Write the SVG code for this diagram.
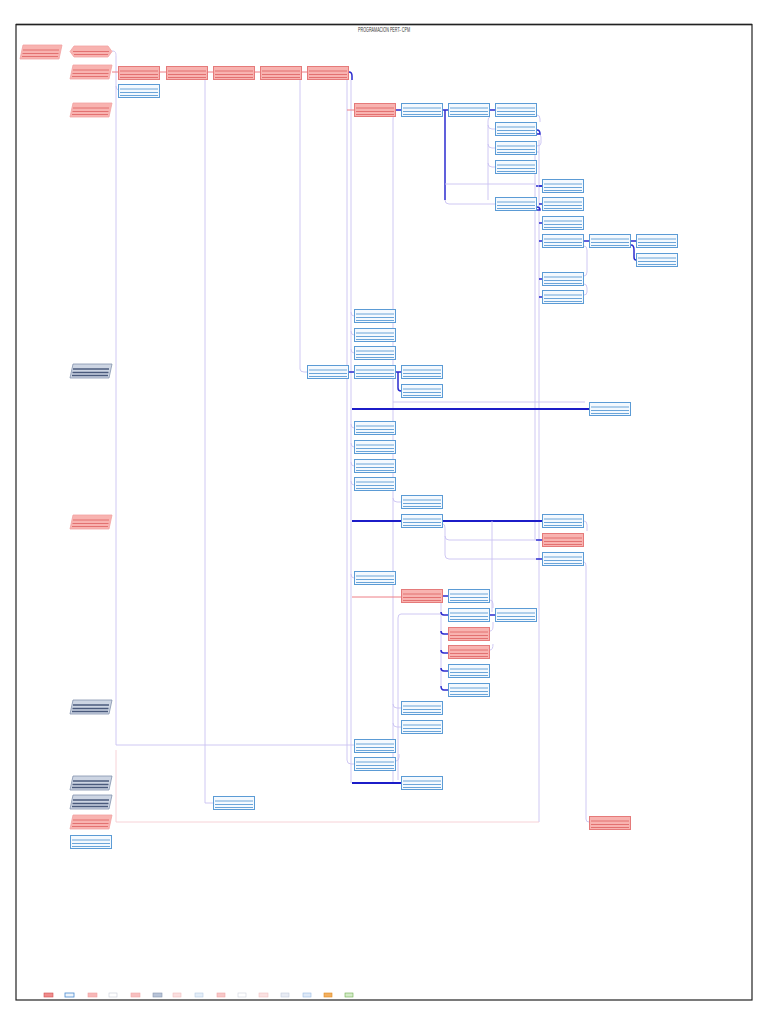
<svg xmlns="http://www.w3.org/2000/svg" width="768" height="1024" viewBox="0 0 768 1024">
<style>
.c{fill:none;stroke:#c9c2f2;stroke-width:0.9}
.d{fill:none;stroke:#2b2bcf;stroke-width:1.5}
.t{fill:none;stroke:#1c1cc8;stroke-width:2.2}
.r{fill:none;stroke:#ee7f86;stroke-width:1}
.p{fill:none;stroke:#f6cdd3;stroke-width:0.9}
.bl{stroke:#5b9bd5;stroke-width:0.9}
.rl{stroke:#e06a6a;stroke-width:0.9}
.kl{stroke:#4a5a7c;stroke-width:1.3}
</style>
<defs>
<g id="bn">
<rect x="0.5" y="0.5" width="41" height="13" fill="#f4f9fe" stroke="#5b9bd5"/>
<line class="bl" x1="2" y1="5" x2="40" y2="5"/><line class="bl" x1="2" y1="8.5" x2="40" y2="8.5"/><line class="bl" x1="2" y1="11.5" x2="40" y2="11.5"/>
</g>
<g id="rn">
<rect x="0.5" y="0.5" width="41" height="13" fill="#f8b3b0" stroke="#e57a7a"/>
<line class="rl" x1="2" y1="5" x2="40" y2="5"/><line class="rl" x1="2" y1="8.5" x2="40" y2="8.5"/><line class="rl" x1="2" y1="11.5" x2="40" y2="11.5"/>
</g>
<g id="rp">
<polygon points="3,0 42,0 39,14 0,14" fill="#f8b3b0" stroke="#f3a2a2" stroke-width="0.8"/>
<line class="rl" x1="3" y1="5" x2="39" y2="5"/><line class="rl" x1="2.5" y1="8.5" x2="38.5" y2="8.5"/><line class="rl" x1="2" y1="11.5" x2="38" y2="11.5"/>
</g>
<g id="kp">
<polygon points="3,0 42,0 39,14 0,14" fill="#cdd5e3" stroke="#8392ad" stroke-width="0.8"/>
<line class="kl" x1="3" y1="5" x2="39" y2="5"/><line class="kl" x1="2.5" y1="8.5" x2="38.5" y2="8.5"/><line class="kl" x1="2" y1="11.5" x2="38" y2="11.5"/>
</g>
</defs>
<rect width="768" height="1024" fill="#ffffff"/>
<rect x="16" y="24.5" width="736" height="975.5" fill="none" stroke="#222" stroke-width="1.2"/>
<line x1="16" y1="24.5" x2="752" y2="24.5" stroke="#222" stroke-width="1.6"/>
<text x="384" y="32" font-family="'Liberation Sans', Arial, sans-serif" font-size="7" text-anchor="middle" textLength="52" lengthAdjust="spacingAndGlyphs" fill="#333">PROGRAMACION PERT- CPM</text>

<g id="connectors">
<path class="c" d="M112,51 C116,51 116,53 116,57 L116,745 L354,745"/>
<path class="c" d="M116,86 Q116,90 119,90"/>
<path class="r" d="M112,72 L118,72 M160,72 L166,72 M208,72 L213,72 M255,72 L260,72 M302,72 L307,72"/>
<path class="c" d="M205,79 L205,803 L213,803"/>
<path class="c" d="M300,79 L300,369 Q300,372 304,372 L307,372"/>
<path class="d" d="M349,72 Q352,72 352,76 L352,80"/>
<path class="c" d="M347,80 L347,760 Q347,764 351,764 L354,764"/>
<path class="c" d="M351,80 L351,783"/>
<path class="r" d="M347,110 L354,110"/>
<path class="c" d="M351,312 Q351,316 354,316 M351,331 Q351,335 354,335 M351,349 Q351,353 354,353 M351,424 Q351,428 354,428 M351,443 Q351,447 354,447 M351,462 Q351,466 354,466 M351,481 Q351,485 354,485 M351,574 Q351,578 354,578"/>
<path class="d" d="M349,372 L354,372"/>
<path class="c" d="M396,113 Q393,113 393,120 L393,783"/>
<path class="d" d="M396,110 L401,110 M443,110 L448,110 M490,110 L495,110"/>
<path class="c" d="M393,498 Q393,502 397,502 L401,502 M393,704 Q393,708 397,708 L401,708 M393,723 Q393,727 397,727 L401,727"/>
<path class="d" d="M396,372 L401,372 M398,372 L398,388 Q398,391 401,391"/>
<path class="d" d="M445,110 L445,200"/>
<path class="c" d="M445,200 Q445,204 449,204 L495,204 M445,184 L536,184"/>
<path class="d" d="M536,186 L542,186"/>
<path class="c" d="M490,117 Q488,117 488,121 L488,200 M488,125 Q488,129 492,129 L495,129 M488,144 Q488,148 492,148 L495,148 M488,163 Q488,167 492,167 L495,167"/>
<path class="c" d="M537,133 Q541,133 541,137 L541,143 Q541,146 537,146 M537,152 L539,152"/>
<path class="c" d="M539,140 L539,822"/>
<path class="c" d="M535,150 L535,540"/>
<path class="d" d="M537,130 Q540,130 540,134 L537,134"/>
<path class="d" d="M537,207 Q540,207 540,210 L537,210"/>
<path class="d" d="M539,186 L542,186 M539,204 L542,204 M539,223 L542,223 M539,241 L542,241 M539,279 L542,279 M539,297 L542,297"/>
<path class="d" d="M584,241 L589,241 M631,241 L636,241 M631,245 Q634,245 634,250 L634,257 Q634,260 636,260"/>
<path class="c" d="M584,246 Q587,246 587,250 L587,272 Q587,276 584,276 M584,284 Q587,284 587,288 L587,292 Q587,295 584,295"/>
<path class="c" d="M537,115 Q540,115 540,119 L540,122"/>
<path class="t" d="M352,409 L589,409"/>
<path class="c" d="M393,402 L585,402"/>
<path class="t" d="M352,521 L401,521 M443,521 L542,521"/>
<path class="c" d="M443,524 Q445,524 445,528 L445,555 Q445,559 449,559 L536,559 M445,536 Q445,540 449,540 L536,540"/>
<path class="d" d="M536,540 L542,540 M536,559 L542,559"/>
<path class="c" d="M584,521 Q587,521 587,525 L587,531"/>
<path class="c" d="M492,521 L492,612"/>
<path class="r" d="M352,597 L401,597"/>
<path class="d" d="M443,596 L448,596"/>
<path class="c" d="M441,603 L441,686"/>
<path class="d" d="M441,612 Q441,615 444,615 L448,615 M441,631 Q441,634 444,634 L448,634 M441,650 Q441,653 444,653 L448,653 M441,668 Q441,671 444,671 L448,671 M441,686 Q441,690 444,690 L448,690"/>
<path class="d" d="M490,615 L495,615"/>
<path class="c" d="M490,600 Q493,600 493,604 L493,608 M490,631 Q493,631 493,626 L493,622 M490,650 Q493,650 493,644"/>
<path class="c" d="M440,614 L401,614 Q398,614 398,618 L398,780"/>
<path class="t" d="M352,783 L401,783"/>
<path class="c" d="M396,761 Q399,761 399,757 L399,754"/>
<path class="p" d="M116,750 L116,822 L539,822"/>
<path class="c" d="M584,562 Q586,562 586,566 L586,819 Q586,822 589,822"/>
</g>

<g id="n_p0"><use href="#rp" x="20" y="45"/></g>
<g id="n_hx"><polygon points="70,51.5 74,46 108,46 112,51.5 108,57 74,57" fill="#f8b3b0" stroke="#f3a2a2" stroke-width="0.8"/><line class="rl" x1="73" y1="51.5" x2="109" y2="51.5"/><line class="rl" x1="74" y1="54.5" x2="108" y2="54.5"/></g>
<g id="n_p1"><use href="#rp" x="70" y="65"/></g>
<g id="n_p2"><use href="#rp" x="70" y="103"/></g>
<g id="n_r1"><use href="#rn" x="118" y="66"/></g>
<g id="n_r2"><use href="#rn" x="166" y="66"/></g>
<g id="n_r3"><use href="#rn" x="213" y="66"/></g>
<g id="n_r4"><use href="#rn" x="260" y="66"/></g>
<g id="n_r5"><use href="#rn" x="307" y="66"/></g>
<g id="n_b1"><use href="#bn" x="118" y="84"/></g>
<g id="n_r6"><use href="#rn" x="354" y="103"/></g>
<g id="n_b2"><use href="#bn" x="401" y="103"/></g>
<g id="n_b3"><use href="#bn" x="448" y="103"/></g>
<g id="n_b4"><use href="#bn" x="495" y="103"/></g>
<g id="n_b5"><use href="#bn" x="495" y="122"/></g>
<g id="n_b6"><use href="#bn" x="495" y="141"/></g>
<g id="n_b7"><use href="#bn" x="495" y="160"/></g>
<g id="n_b8"><use href="#bn" x="495" y="197"/></g>
<g id="n_b9"><use href="#bn" x="542" y="179"/></g>
<g id="n_b10"><use href="#bn" x="542" y="197"/></g>
<g id="n_b11"><use href="#bn" x="542" y="216"/></g>
<g id="n_b12"><use href="#bn" x="542" y="234"/></g>
<g id="n_b13"><use href="#bn" x="542" y="272"/></g>
<g id="n_b14"><use href="#bn" x="542" y="290"/></g>
<g id="n_b15"><use href="#bn" x="589" y="234"/></g>
<g id="n_b16"><use href="#bn" x="636" y="234"/></g>
<g id="n_b17"><use href="#bn" x="636" y="253"/></g>
<g id="n_b18"><use href="#bn" x="354" y="309"/></g>
<g id="n_b19"><use href="#bn" x="354" y="328"/></g>
<g id="n_b20"><use href="#bn" x="354" y="346"/></g>
<g id="n_b21"><use href="#bn" x="354" y="365"/></g>
<g id="n_b22"><use href="#bn" x="307" y="365"/></g>
<g id="n_b23"><use href="#bn" x="401" y="365"/></g>
<g id="n_b24"><use href="#bn" x="401" y="384"/></g>
<g id="n_b25"><use href="#bn" x="589" y="402"/></g>
<g id="n_b26"><use href="#bn" x="354" y="421"/></g>
<g id="n_b27"><use href="#bn" x="354" y="440"/></g>
<g id="n_b28"><use href="#bn" x="354" y="459"/></g>
<g id="n_b29"><use href="#bn" x="354" y="477"/></g>
<g id="n_b30"><use href="#bn" x="401" y="495"/></g>
<g id="n_b31"><use href="#bn" x="401" y="514"/></g>
<g id="n_b32"><use href="#bn" x="542" y="514"/></g>
<g id="n_r7"><use href="#rn" x="542" y="533"/></g>
<g id="n_b33"><use href="#bn" x="542" y="552"/></g>
<g id="n_b34"><use href="#bn" x="354" y="571"/></g>
<g id="n_r8"><use href="#rn" x="401" y="589"/></g>
<g id="n_b35"><use href="#bn" x="448" y="589"/></g>
<g id="n_b36"><use href="#bn" x="448" y="608"/></g>
<g id="n_r9"><use href="#rn" x="448" y="627"/></g>
<g id="n_r10"><use href="#rn" x="448" y="645"/></g>
<g id="n_b37"><use href="#bn" x="448" y="664"/></g>
<g id="n_b38"><use href="#bn" x="448" y="683"/></g>
<g id="n_b39"><use href="#bn" x="495" y="608"/></g>
<g id="n_b40"><use href="#bn" x="401" y="701"/></g>
<g id="n_b41"><use href="#bn" x="401" y="720"/></g>
<g id="n_b42"><use href="#bn" x="354" y="739"/></g>
<g id="n_b43"><use href="#bn" x="354" y="757"/></g>
<g id="n_b44"><use href="#bn" x="401" y="776"/></g>
<g id="n_k1"><use href="#kp" x="70" y="364"/></g>
<g id="n_p3"><use href="#rp" x="70" y="515"/></g>
<g id="n_k2"><use href="#kp" x="70" y="700"/></g>
<g id="n_k3"><use href="#kp" x="70" y="776"/></g>
<g id="n_k4"><use href="#kp" x="70" y="795"/></g>
<g id="n_p4"><use href="#rp" x="70" y="815"/></g>
<g id="n_b45"><use href="#bn" x="70" y="835"/></g>
<g id="n_b46"><use href="#bn" x="213" y="796"/></g>
<g id="n_r11"><use href="#rn" x="589" y="816"/></g>

<g id="legend">
<rect x="44" y="993" width="9" height="4" fill="#f08c8c" stroke="#d05050" stroke-width="0.6"/>
<rect x="65" y="993" width="9" height="4" fill="#eef5fc" stroke="#4a8ad0" stroke-width="0.8"/>
<rect x="88" y="993" width="9" height="4" fill="#f8b8b8" stroke="#f0a0a0" stroke-width="0.6"/>
<rect x="109" y="993" width="8" height="4" fill="#fff" stroke="#c8ccd8" stroke-width="0.6"/>
<rect x="131" y="993" width="9" height="4" fill="#f8c0c0" stroke="#f0a8a8" stroke-width="0.6"/>
<rect x="153" y="993" width="9" height="4" fill="#b8c4d8" stroke="#8896b0" stroke-width="0.6"/>
<rect x="173" y="993" width="8" height="4" fill="#fbe0e0" stroke="#f0c0c0" stroke-width="0.6"/>
<rect x="195" y="993" width="8" height="4" fill="#e4eef8" stroke="#b8cce4" stroke-width="0.6"/>
<rect x="217" y="993" width="8" height="4" fill="#f8c8c8" stroke="#f0a8a8" stroke-width="0.6"/>
<rect x="238" y="993" width="8" height="4" fill="#fff" stroke="#d0d4de" stroke-width="0.6"/>
<rect x="259" y="993" width="9" height="4" fill="#fbe2e2" stroke="#f0c4c4" stroke-width="0.6"/>
<rect x="281" y="993" width="8" height="4" fill="#e8ecf4" stroke="#c4ccdc" stroke-width="0.6"/>
<rect x="303" y="993" width="8" height="4" fill="#dfeaf8" stroke="#9cbce4" stroke-width="0.6"/>
<rect x="324" y="993" width="8" height="4" fill="#f3b060" stroke="#e08a20" stroke-width="0.6"/>
<rect x="345" y="993" width="8" height="4" fill="#d4ecc8" stroke="#70b050" stroke-width="0.6"/>
</g>
</svg>
